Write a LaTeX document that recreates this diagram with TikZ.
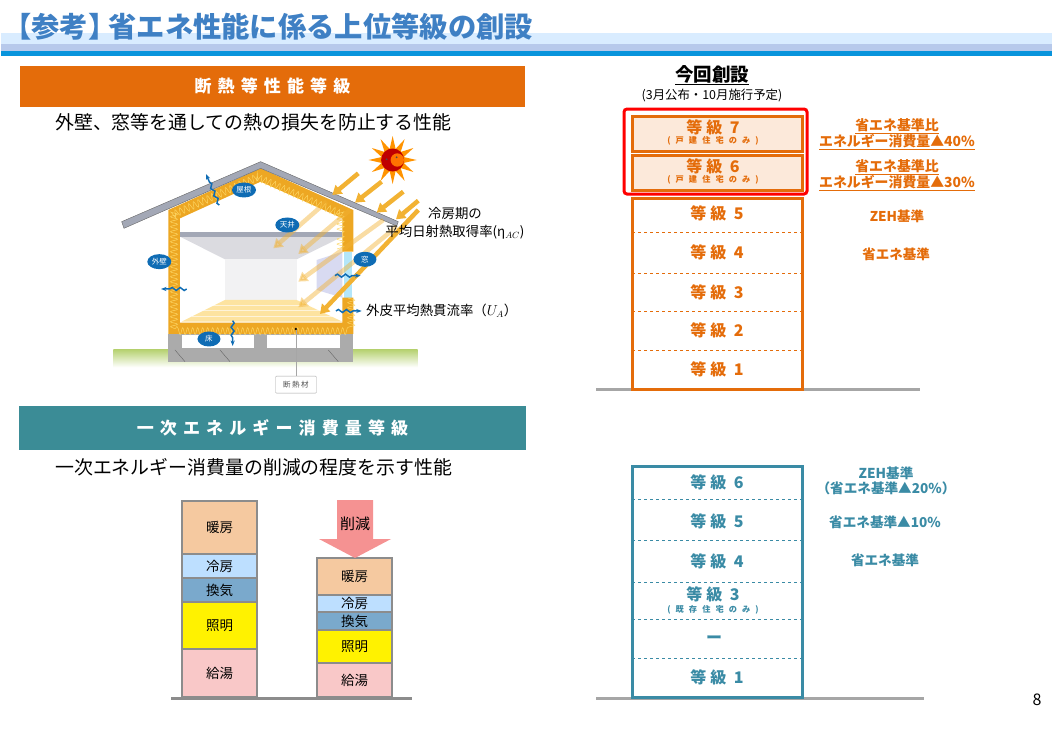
\documentclass[tikz,border=0pt]{standalone}
\usepackage{fontspec}
\usepackage{xcolor}
\usepackage{tikz}
\usetikzlibrary{arrows.meta}
\usetikzlibrary{positioning}
\usetikzlibrary{shapes.geometric}
\usetikzlibrary{decorations.pathmorphing}
\setmainfont{Noto Sans CJK JP}
\newcommand{\fs}[1]{\fontsize{#1}{#1}\selectfont}
\newcommand{\spc}[1]{\addfontfeature{LetterSpace=#1}}
\newcommand{\up}[2]{\raisebox{#1}{#2}}
\definecolor{orange_c}{HTML}{E46C0A}
\definecolor{teal_c}{HTML}{3A8BA5}
\definecolor{head_c}{HTML}{3B8C96}
\definecolor{title_c}{HTML}{3F80C4}
\definecolor{base_c}{HTML}{A6A6A6}
\definecolor{wave_c}{HTML}{0F6CB4}
\definecolor{sun_c}{HTML}{F2B233}
\definecolor{wool_c}{HTML}{EDA723}
\definecolor{roof_c}{HTML}{A3A8B6}
\definecolor{grass_c}{HTML}{B5D16F}
\definecolor{heat_c}{HTML}{F5C9A0}
\definecolor{cool_c}{HTML}{BDDFFF}
\definecolor{vent_c}{HTML}{7AA9CC}
\definecolor{water_c}{HTML}{F9C8C8}
\definecolor{cut_c}{HTML}{F59292}
\definecolor{pale_c}{HTML}{FCE9DA}
\tikzset{
    head_bar/.style = {rectangle, inner sep=0pt, outer sep=0pt, minimum width=505pt, minimum height=41pt, white, font=\fs{17}\bfseries\spc{36}},
    sub_text/.style = {inner sep=0pt, font=\fs{18.9}},
    note_text/.style = {inner sep=0pt, black, font=\fs{13.4}},
    room_tag/.style = {ellipse, fill=wave_c, text=white, inner sep=1pt, minimum width=23pt, minimum height=15pt, font=\fs{7.5}},
    bar_node/.style = {rectangle, draw=black!45, line width=1.5pt, inner sep=0pt, outer sep=0pt, minimum width=75pt, font=\fs{13.5}},
    o_cell/.style = {rectangle, inner sep=0pt, outer sep=0pt, minimum width=170pt, orange_c, font=\fs{16}\bfseries\spc{25}},
    t_cell/.style = {o_cell, teal_c},
    o_top/.style = {o_cell, draw=orange_c, line width=3pt, fill=pale_c, align=center},
    o_word/.style = {inner sep=0pt, orange_c, font=\fs{16}\bfseries\spc{25}},
    t_word/.style = {inner sep=0pt, teal_c, font=\fs{16}\bfseries\spc{25}},
    small_line/.style = {font=\fs{8.2}\bfseries\spc{62}},
    o_note/.style = {inner sep=0pt, orange_c, align=center, font=\fs{13.9}\bfseries},
    t_note/.style = {inner sep=0pt, teal_c, align=center, font=\fs{13.6}\bfseries},
    o_dash/.style = {draw=orange_c, dashed, thin},
    t_dash/.style = {draw=teal_c, dashed, thin},
    base_line/.style = {draw=base_c, line width=3pt},
    sun_arrow/.style = {draw=sun_c, line width=4.5pt, -{Triangle[length=9pt,width=11pt]}},
    pale_arrow/.style = {sun_arrow, opacity=0.45},
    wave_arrow/.style = {draw=wave_c, line width=1.5pt, -{Stealth[length=5.5pt]}, decorate, decoration={snake, amplitude=1.5pt, segment length=8pt, post length=5pt}}
}
\begin{document}
\begin{tikzpicture}[x=1pt,y=-1pt]
    \useasboundingbox (0,0) rectangle (1052,734);

    % title band
    \fill [blue!50!cyan!15] (1,33) rectangle (1052,44);
    \fill [cyan!50!blue!28] (1,44) rectangle (1052,51);
    \fill [cyan!80!blue] (1,51) rectangle (1052,55.5);
    \node [anchor=west, inner sep=0pt, font=\fs{28.3}\bfseries, color=title_c] (title) at (3,27) {【参考】\kern-8pt 省エネ性能に係る上位等級の創設};

    % left column heads
    \node [head_bar, fill=orange_c] (head_a) at (272.5,86.5) {\up{2.5pt}{断熱等性能等級}};
    \node [sub_text, anchor=west] (sub_a) at (55,122) {外壁、窓等を通しての熱の損失を防止する性能};
    \node [head_bar, fill=head_c, minimum width=507pt, minimum height=44pt] (head_b) at (272.5,428) {\up{2.5pt}{一次エネルギー消費量等級}};
    \node [sub_text, anchor=west] (sub_b) at (55,467) {一次エネルギー消費量の削減の程度を示す性能};

    % house
    \begin{scope}[shift={(100,130)},x=0.3333pt,y=-0.3333pt]
        \shade [top color=grass_c, bottom color=white] (40,658) rectangle (953,712);
        \fill [black!33] (205,612) rectangle (760,695);
        \fill [white] (245,615) rectangle (462,655);
        \fill [white] (500,615) rectangle (720,655);
        \draw [black!60, thin] (225,660) -- (255,695) (360,660) -- (390,695) (685,660) -- (715,695);
        \fill [blue!12!black!14] (240,320) -- (727,320) -- (590,388) -- (375,388) -- cycle;
        \fill [blue!5!black!5] (375,388) rectangle (590,510);
        \fill [yellow!45!orange!35] (375,510) -- (590,510) -- (727,575) -- (245,575) -- cycle;
        \draw [white, opacity=0.6] (340,525) -- (625,525) (305,542) -- (660,542) (275,558) -- (695,558);
        \fill [cyan!30!blue!15!white] (650,390) -- (727,365) -- (727,503) -- (650,480) -- cycle;
        \fill [cyan!30!white] (733,365) rectangle (757,503);
        \fill [wool_c] (205,240) -- (482,115) -- (760,240) -- (760,365) -- (727,365) -- (727,265) -- (482,155) -- (240,265) -- (240,578) -- (727,578) -- (727,503) -- (760,503) -- (760,612) -- (205,612) -- cycle;
        \draw [yellow!50!orange!60, line width=0.5pt, decorate, decoration={snake, amplitude=3.6pt, segment length=5pt}] (222,595) -- (222,250) -- (482,135) -- (743,250) -- (743,365) (743,503) -- (743,595) -- (222,595);
        \fill [roof_c] (240,305) rectangle (727,320);
        \draw [draw=black!60, fill=roof_c, thin] (65,275) -- (482,95) -- (895,275) -- (890,288) -- (482,115) -- (72,295) -- cycle;

        \draw [pale_arrow] (680,215) -- (520,355);
        \draw [pale_arrow] (750,240) -- (595,372);
        \draw [pale_arrow] (850,270) -- (595,455);
        \draw [pale_arrow] (890,290) -- (595,532);
        \draw [sun_arrow] (775,130) -- (697,195);
        \draw [sun_arrow] (845,155) -- (765,218);
        \draw [sun_arrow] (910,185) -- (830,248);
        \draw [sun_arrow] (955,212) -- (888,268);
        \draw [sun_arrow] (955,240) -- (660,552);

        \node [star, star points=12, star point ratio=2.1, fill=orange!85!yellow, inner sep=0pt, minimum size=48pt] (sun_ray) at (878,90) {};
        \node [circle, fill=red!75!black, inner sep=0pt, minimum size=23pt] (sun_disc) at (878,90) {};
        \fill [orange!90!red] (892,90) circle (20);
        \fill [black!70] (860,88) circle (3) (890,82) circle (3);

        \draw [wave_arrow] (358,225) -- (318,132);
        \draw [wave_arrow] (260,477) -- (183,477);
        \draw [wave_arrow] (398,572) -- (398,648);
        \draw [wave_arrow] (705,437) -- (782,437);
        \draw [wave_arrow] (708,543) -- (785,543);

        \node [room_tag] (tag_roof) at (432,180) {屋根};
        \node [room_tag] (tag_ceil) at (562,285) {天井};
        \node [room_tag] (tag_wall) at (178,395) {外壁};
        \node [room_tag] (tag_win) at (795,388) {窓};
        \node [room_tag] (tag_floor) at (327,627) {床};

        \node [circle, fill=black, inner sep=0pt, minimum size=2.5pt] (ins_dot) at (588,597) {};
        \node [draw=black!35, rounded corners=1pt, fill=white, text=black!70, inner sep=0pt, minimum width=41pt, minimum height=17pt, font=\fs{7.5}\spc{20}] (ins_tag) at (588,764) {断熱材};
        \draw [black!35] (ins_dot) -- (ins_tag);
    \end{scope}
    \node [note_text] (eta_a) at (455,213) {冷房期の};
    \node [note_text] (eta_b) at (455,232) {平均日射熱取得率(η$_{AC}$)};
    \node [note_text, anchor=west] (ua_a) at (366,311) {外皮平均熱貫流率（$U_A$）};

    % energy bars
    \node [bar_node, fill=heat_c, minimum height=53pt] (heat_a) at (219.5,527.5) {暖房};
    \node [bar_node, fill=cool_c, minimum height=24pt, below=0pt of heat_a] (cool_a) {冷房};
    \node [bar_node, fill=vent_c, minimum height=24pt, below=0pt of cool_a] (vent_a) {換気};
    \node [bar_node, fill=yellow, minimum height=47pt, below=0pt of vent_a] (light_a) {照明};
    \node [bar_node, fill=water_c, minimum height=48pt, below=0pt of light_a] (water_a) {給湯};

    \node [bar_node, fill=heat_c, minimum height=37pt] (heat_b) at (354.5,576.5) {暖房};
    \node [bar_node, fill=cool_c, minimum height=17pt, below=0pt of heat_b] (cool_b) {冷房};
    \node [bar_node, fill=vent_c, minimum height=18pt, below=0pt of cool_b] (vent_b) {換気};
    \node [bar_node, fill=yellow, minimum height=33pt, below=0pt of vent_b] (light_b) {照明};
    \node [bar_node, fill=water_c, minimum height=34pt, below=0pt of light_b] (water_b) {給湯};

    \fill [cut_c] (337,500) -- (373,500) -- (373,539) -- (391,539) -- (355,558) -- (319,539) -- (337,539) -- cycle;
    \node [inner sep=0pt, font=\fs{15}] (cut_text) at (355,524) {削減};
    \coordinate (bar_l) at (171,698);
    \coordinate (bar_r) at (412,698);
    \draw [draw=black!45, line width=3pt] (bar_l) -- (bar_r);

    % orange grades
    \node [inner sep=0pt, font=\fs{18.5}\bfseries] (new_title) at (712,75) {\underline{今回創設}};
    \node [inner sep=0pt, font=\fs{12.4}] (new_sub) at (712,95) {(3月公布・10月施行予定)};
    \node [o_top, minimum height=35pt] (o7) at (717,133.5) {};
    \node [o_top, minimum height=35pt] (o6) at (717,172.5) {};
    \node [o_word] (o7_t) at (713,127) {等級 7};
    \node [inner sep=0pt, orange_c, small_line] (o7_s) at (713,141) {(戸建住宅のみ)};
    \node [o_word] (o6_t) at (713,166) {等級 6};
    \node [inner sep=0pt, orange_c, small_line] (o6_s) at (713,180) {(戸建住宅のみ)};
    \draw [draw=red, line width=3pt, rounded corners=3pt] (624,109) rectangle (807,194);

    \node [o_cell, minimum height=34pt] (o5) at (717,215) {};
    \node [o_cell, minimum height=41pt, below=0pt of o5] (o4) {等級 4};
    \node [o_cell, minimum height=38pt, below=0pt of o4] (o3) {等級 3};
    \node [o_cell, minimum height=39pt, below=0pt of o3] (o2) {等級 2};
    \node [o_cell, minimum height=39pt, below=0pt of o2] (o1) {等級 1};
    \node [o_word] (o5_t) at (717,213) {等級 5};
    \foreach \c in {o5,o4,o3,o2}
        \draw [o_dash] (\c.south west) -- (\c.south east);
    \coordinate (o_l) at (596,389);
    \coordinate (o_r) at (920,389);
    \draw [base_line] (o_l) -- (o_r);
    \draw [draw=orange_c, line width=3pt] (o5.north west) rectangle (o1.south east);

    \node [o_note] (o7_n) at (897,134) {\underline{省エネ基準比}\\[-1pt]\underline{エネルギー消費量▲40\%}};
    \node [o_note] (o6_n) at (897,175) {\underline{省エネ基準比}\\[-1pt]\underline{エネルギー消費量▲30\%}};
    \node [o_note, font=\fs{13.5}\bfseries] (o5_n) at (897,216) {ZEH基準};
    \node [o_note, font=\fs{13.5}\bfseries] (o4_n) at (896,254) {省エネ基準};

    % teal grades
    \node [t_cell, minimum height=33pt] (t6) at (717,482.5) {等級 6};
    \node [t_cell, minimum height=41pt, below=0pt of t6] (t5) {};
    \node [t_cell, minimum height=42pt, below=0pt of t5] (t4) {等級 4};
    \node [t_cell, minimum height=37pt, below=0pt of t4] (t3) {};
    \node [t_cell, minimum height=39pt, below=0pt of t3] (t2) {};
    \node [t_cell, minimum height=39pt, below=0pt of t2] (t1) {等級 1};
    \node [t_word] (t5_t) at (717,521) {等級 5};
    \node [t_word] (t3_t) at (713,594) {等級 3};
    \node [inner sep=0pt, teal_c, small_line] (t3_s) at (713,610) {(既存住宅のみ)};
    \node [t_word] (t2_t) at (714,640) {ー};
    \foreach \c in {t6,t5,t4,t3,t2}
        \draw [t_dash] (\c.south west) -- (\c.south east);
    \coordinate (t_l) at (596,698);
    \coordinate (t_r) at (924,698);
    \draw [base_line] (t_l) -- (t_r);
    \draw [draw=teal_c, line width=3pt] (t6.north west) rectangle (t1.south east);

    \node [t_note] (t6_n) at (886,481) {ZEH基準\\[1.5pt]（省エネ基準▲20\%）};
    \node [t_note] (t5_n) at (885,522) {省エネ基準▲10\%};
    \node [t_note] (t4_n) at (885,560) {省エネ基準};

    \node [inner sep=0pt, font=\fs{16}] (page_no) at (1037,700) {8};
\end{tikzpicture}
\end{document}
